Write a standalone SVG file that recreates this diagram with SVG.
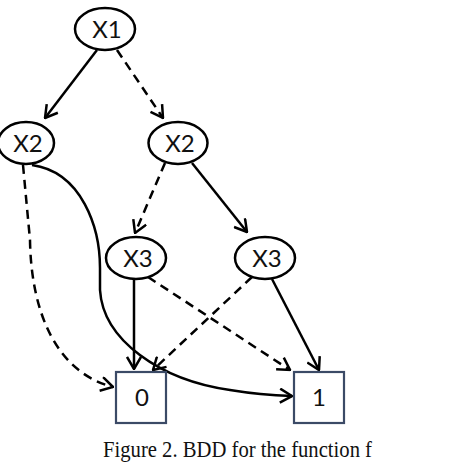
<svg xmlns="http://www.w3.org/2000/svg" width="474" height="474" viewBox="0 0 474 474">
<defs>
<marker id="arr" viewBox="0 0 14 16" refX="13" refY="8" markerWidth="14" markerHeight="16" markerUnits="userSpaceOnUse" orient="auto">
<path d="M1,1 L13,8 L1,15" fill="none" stroke="#000" stroke-width="2.5"/>
</marker>
<style>
.n ellipse{fill:#fff;stroke:#000;stroke-width:2.5}
.t rect{fill:#fff;stroke:#3b4a66;stroke-width:2.2}
.lbl{font-family:Lato,"Open Sans",sans-serif;font-size:24px;fill:#111;text-anchor:middle}
.e{fill:none;stroke:#000;stroke-width:2.5;marker-end:url(#arr)}
.d{stroke-dasharray:9 6}
</style>
</defs>
<rect width="474" height="474" fill="#fff"/>
<g id="connectors">
<path class="e" d="M97,50 L45,118"/>
<path class="e d" d="M117,50 L163,118"/>
<path class="e d" d="M23,165 L30,240 C31,310 55,372 113,387"/>
<path class="e" d="M32,165 C82,172 100,228 100,268 L100,290 C103,340 160,380 230,390 Q260,395 292,396"/>
<path class="e d" d="M165,163 L135,233"/>
<path class="e" d="M192,163 L247,232"/>
<path class="e" d="M134,279 L134,369"/>
<path class="e d" d="M148,277 L290,370"/>
<path class="e d" d="M252,277 L153,370"/>
<path class="e" d="M272,279 L319,370"/>
</g>
<g id="x1" class="n"><ellipse cx="105" cy="29" rx="30" ry="21"/><text class="lbl" x="107" y="38">X1</text></g>
<g id="x2a" class="n"><ellipse cx="26" cy="143" rx="28" ry="21"/><text class="lbl" x="28" y="152">X2</text></g>
<g id="x2b" class="n"><ellipse cx="178" cy="143" rx="29.5" ry="21"/><text class="lbl" x="180" y="152">X2</text></g>
<g id="x3a" class="n"><ellipse cx="136" cy="258" rx="30" ry="21"/><text class="lbl" x="138" y="267">X3</text></g>
<g id="x3b" class="n"><ellipse cx="265" cy="258" rx="30" ry="21"/><text class="lbl" x="267" y="267">X3</text></g>
<g id="t0" class="t"><rect x="116" y="372" width="50" height="51"/><text class="lbl" x="142" y="406">0</text></g>
<g id="t1" class="t"><rect x="294" y="372" width="50" height="51"/><text class="lbl" x="319" y="406">1</text></g>
<text x="237.5" y="457" font-family="Liberation Serif,serif" font-size="24" text-anchor="middle" fill="#111" textLength="269" lengthAdjust="spacingAndGlyphs">Figure 2. BDD for the function f</text>
</svg>
